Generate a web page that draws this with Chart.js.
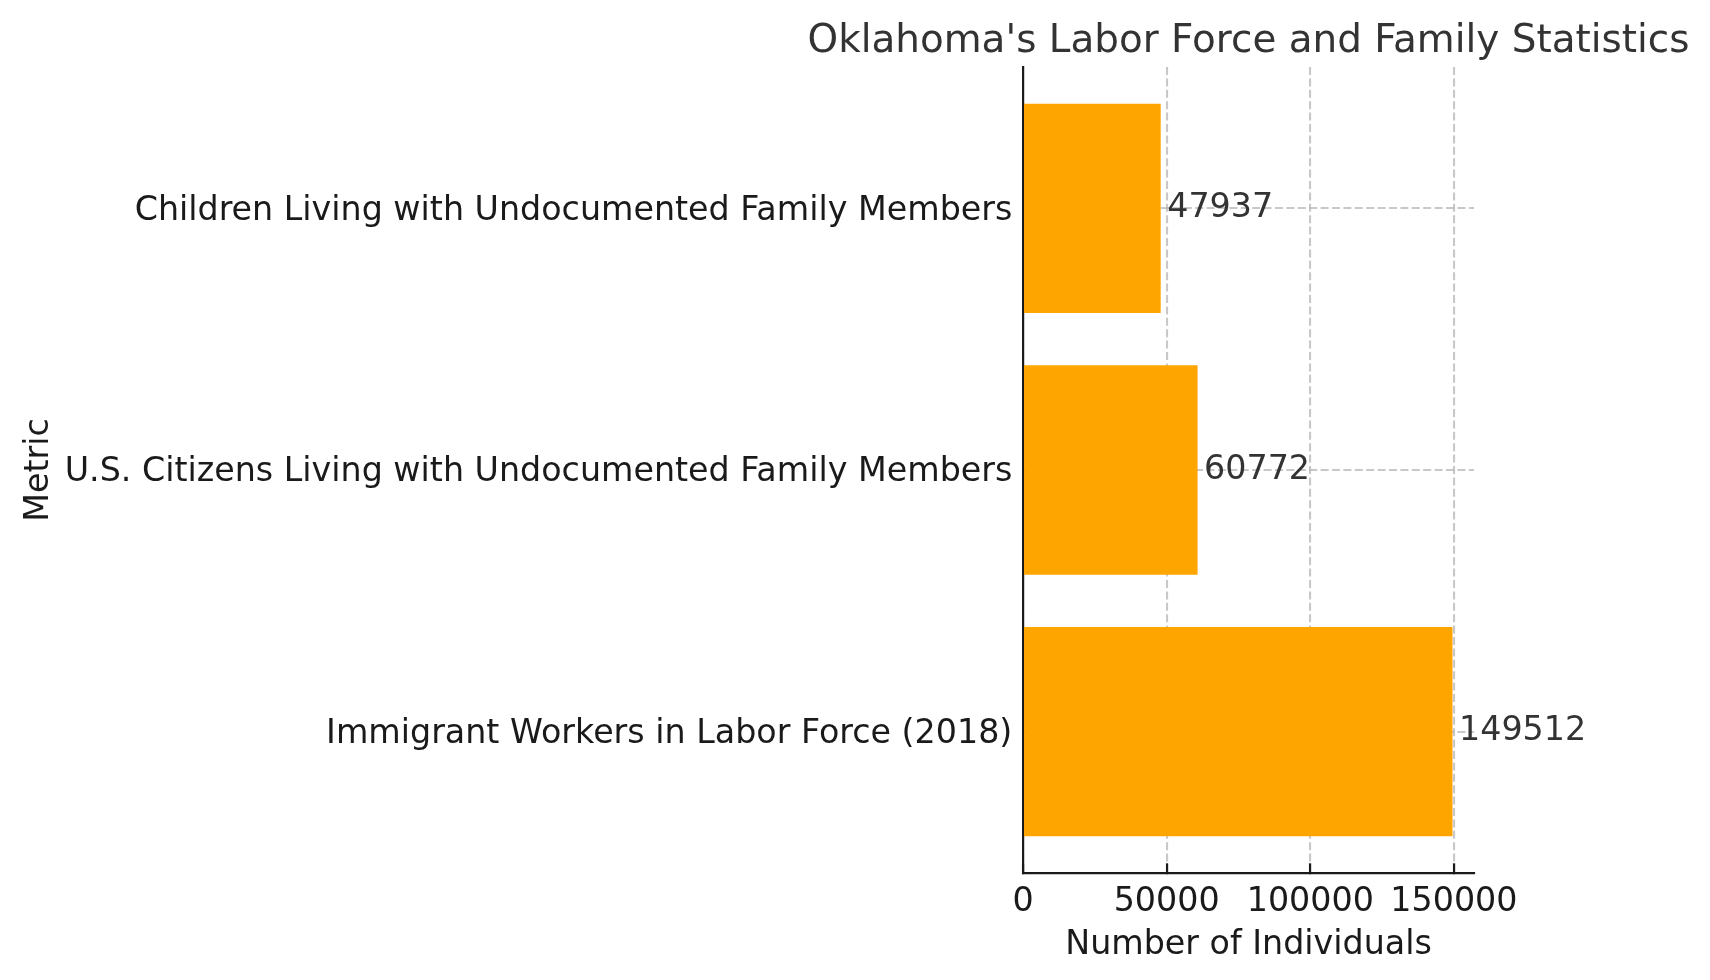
<!DOCTYPE html>
<html><head><meta charset="utf-8">
<script src="https://cdn.jsdelivr.net/npm/chart.js@4.4.1/dist/chart.umd.min.js"></script>
<style>html,body{margin:0;padding:0;background:#fff;overflow:hidden;} canvas{display:block;}</style>
</head><body>
<canvas id="c" width="1710" height="980"></canvas>
<script>
const categories = [
  "Immigrant Workers in Labor Force (2018)",
  "U.S. Citizens Living with Undocumented Family Members",
  "Children Living with Undocumented Family Members"
];
const values = [149512, 60772, 47937];
const xTicks = [0, 50000, 100000, 150000];
const xMin = 0;
const xMax = 156988;
const yMin = -0.54;
const yMax = 2.54;
const chartTitle = "Oklahoma's Labor Force and Family Statistics";
const xTitle = "Number of Individuals";
const yTitle = "Metric";

const FONT = "'DejaVu Sans', 'Liberation Sans', sans-serif";
const GRID = 'rgba(176,176,176,0.7)';
const SPINE = '#1a1a1a';
const FS = 33.3;

Chart.defaults.font.family = FONT;

const valueLabels = {
  id: 'valueLabels',
  afterDraw(chart) {
    const ctx = chart.ctx;
    const meta = chart.getDatasetMeta(0);
    const area = chart.chartArea;
    ctx.save();
    ctx.font = FS + "px " + FONT;
    ctx.fillStyle = '#333333';
    ctx.textAlign = 'left';
    ctx.textBaseline = 'middle';
    meta.data.forEach((el, i) => {
      ctx.fillText(String(values[i]), el.x + 6.5, el.y);
    });
    ctx.font = "38.9px " + FONT;
    ctx.textAlign = 'center';
    ctx.textBaseline = 'alphabetic';
    ctx.fillText(chartTitle, (area.left + area.right) / 2, 51.5);
    ctx.restore();
  }
};

new Chart(document.getElementById('c'), {
  type: 'bar',
  data: {
    datasets: [{
      data: values.map((v, i) => ({ x: v, y: i })),
      backgroundColor: '#FFA500',
      borderWidth: 0,
      categoryPercentage: 1.0,
      barPercentage: 0.8
    }]
  },
  options: {
    indexAxis: 'y',
    responsive: false,
    animation: false,
    devicePixelRatio: 1,
    layout: { padding: { left: 0, right: 236, top: 67, bottom: 0 } },
    plugins: {
      legend: { display: false },
      tooltip: { enabled: false },
      title: { display: false }
    },
    scales: {
      x: {
        type: 'linear',
        min: xMin,
        max: xMax,
        z: 1,
        afterBuildTicks: (s) => { s.ticks = xTicks.map(v => ({ value: v })); },
        afterFit: (s) => { s.height = 980 - 67 - 806; },
        ticks: {
          autoSkip: false,
          maxRotation: 0,
          color: '#1a1a1a',
          font: { size: FS },
          padding: 19.2,
          callback: (v) => String(v)
        },
        grid: {
          display: true,
          color: GRID,
          lineWidth: 2.1,
          drawTicks: true,
          tickLength: -9.7,
          tickColor: SPINE,
          tickWidth: 2.2,
          tickBorderDash: []
        },
        border: { display: true, color: SPINE, width: 2.2, dash: [8, 3.4] },
        title: {
          display: true,
          text: xTitle,
          color: '#1a1a1a',
          font: { size: FS },
          padding: { top: 0, bottom: 15 }
        }
      },
      y: {
        type: 'linear',
        min: yMin,
        max: yMax,
        offset: false,
        z: 1,
        afterBuildTicks: (s) => { s.ticks = categories.map((_, i) => ({ value: i })); },
        afterFit: (s) => { s.width = 1023; },
        ticks: {
          autoSkip: false,
          color: '#1a1a1a',
          font: { size: FS },
          padding: 20.4,
          labelOffset: 2.7,
          callback: (v) => categories[v]
        },
        grid: {
          display: true,
          offset: false,
          color: GRID,
          lineWidth: 2.1,
          drawTicks: true,
          tickLength: -9.7,
          tickColor: SPINE,
          tickWidth: 2.2,
          tickBorderDash: []
        },
        border: { display: true, color: SPINE, width: 2.2, dash: [8, 3.4] },
        title: {
          display: true,
          text: yTitle,
          color: '#1a1a1a',
          font: { size: FS },
          padding: { top: 19.6, bottom: 0 }
        }
      }
    }
  },
  plugins: [valueLabels]
});
</script>
</body></html>
